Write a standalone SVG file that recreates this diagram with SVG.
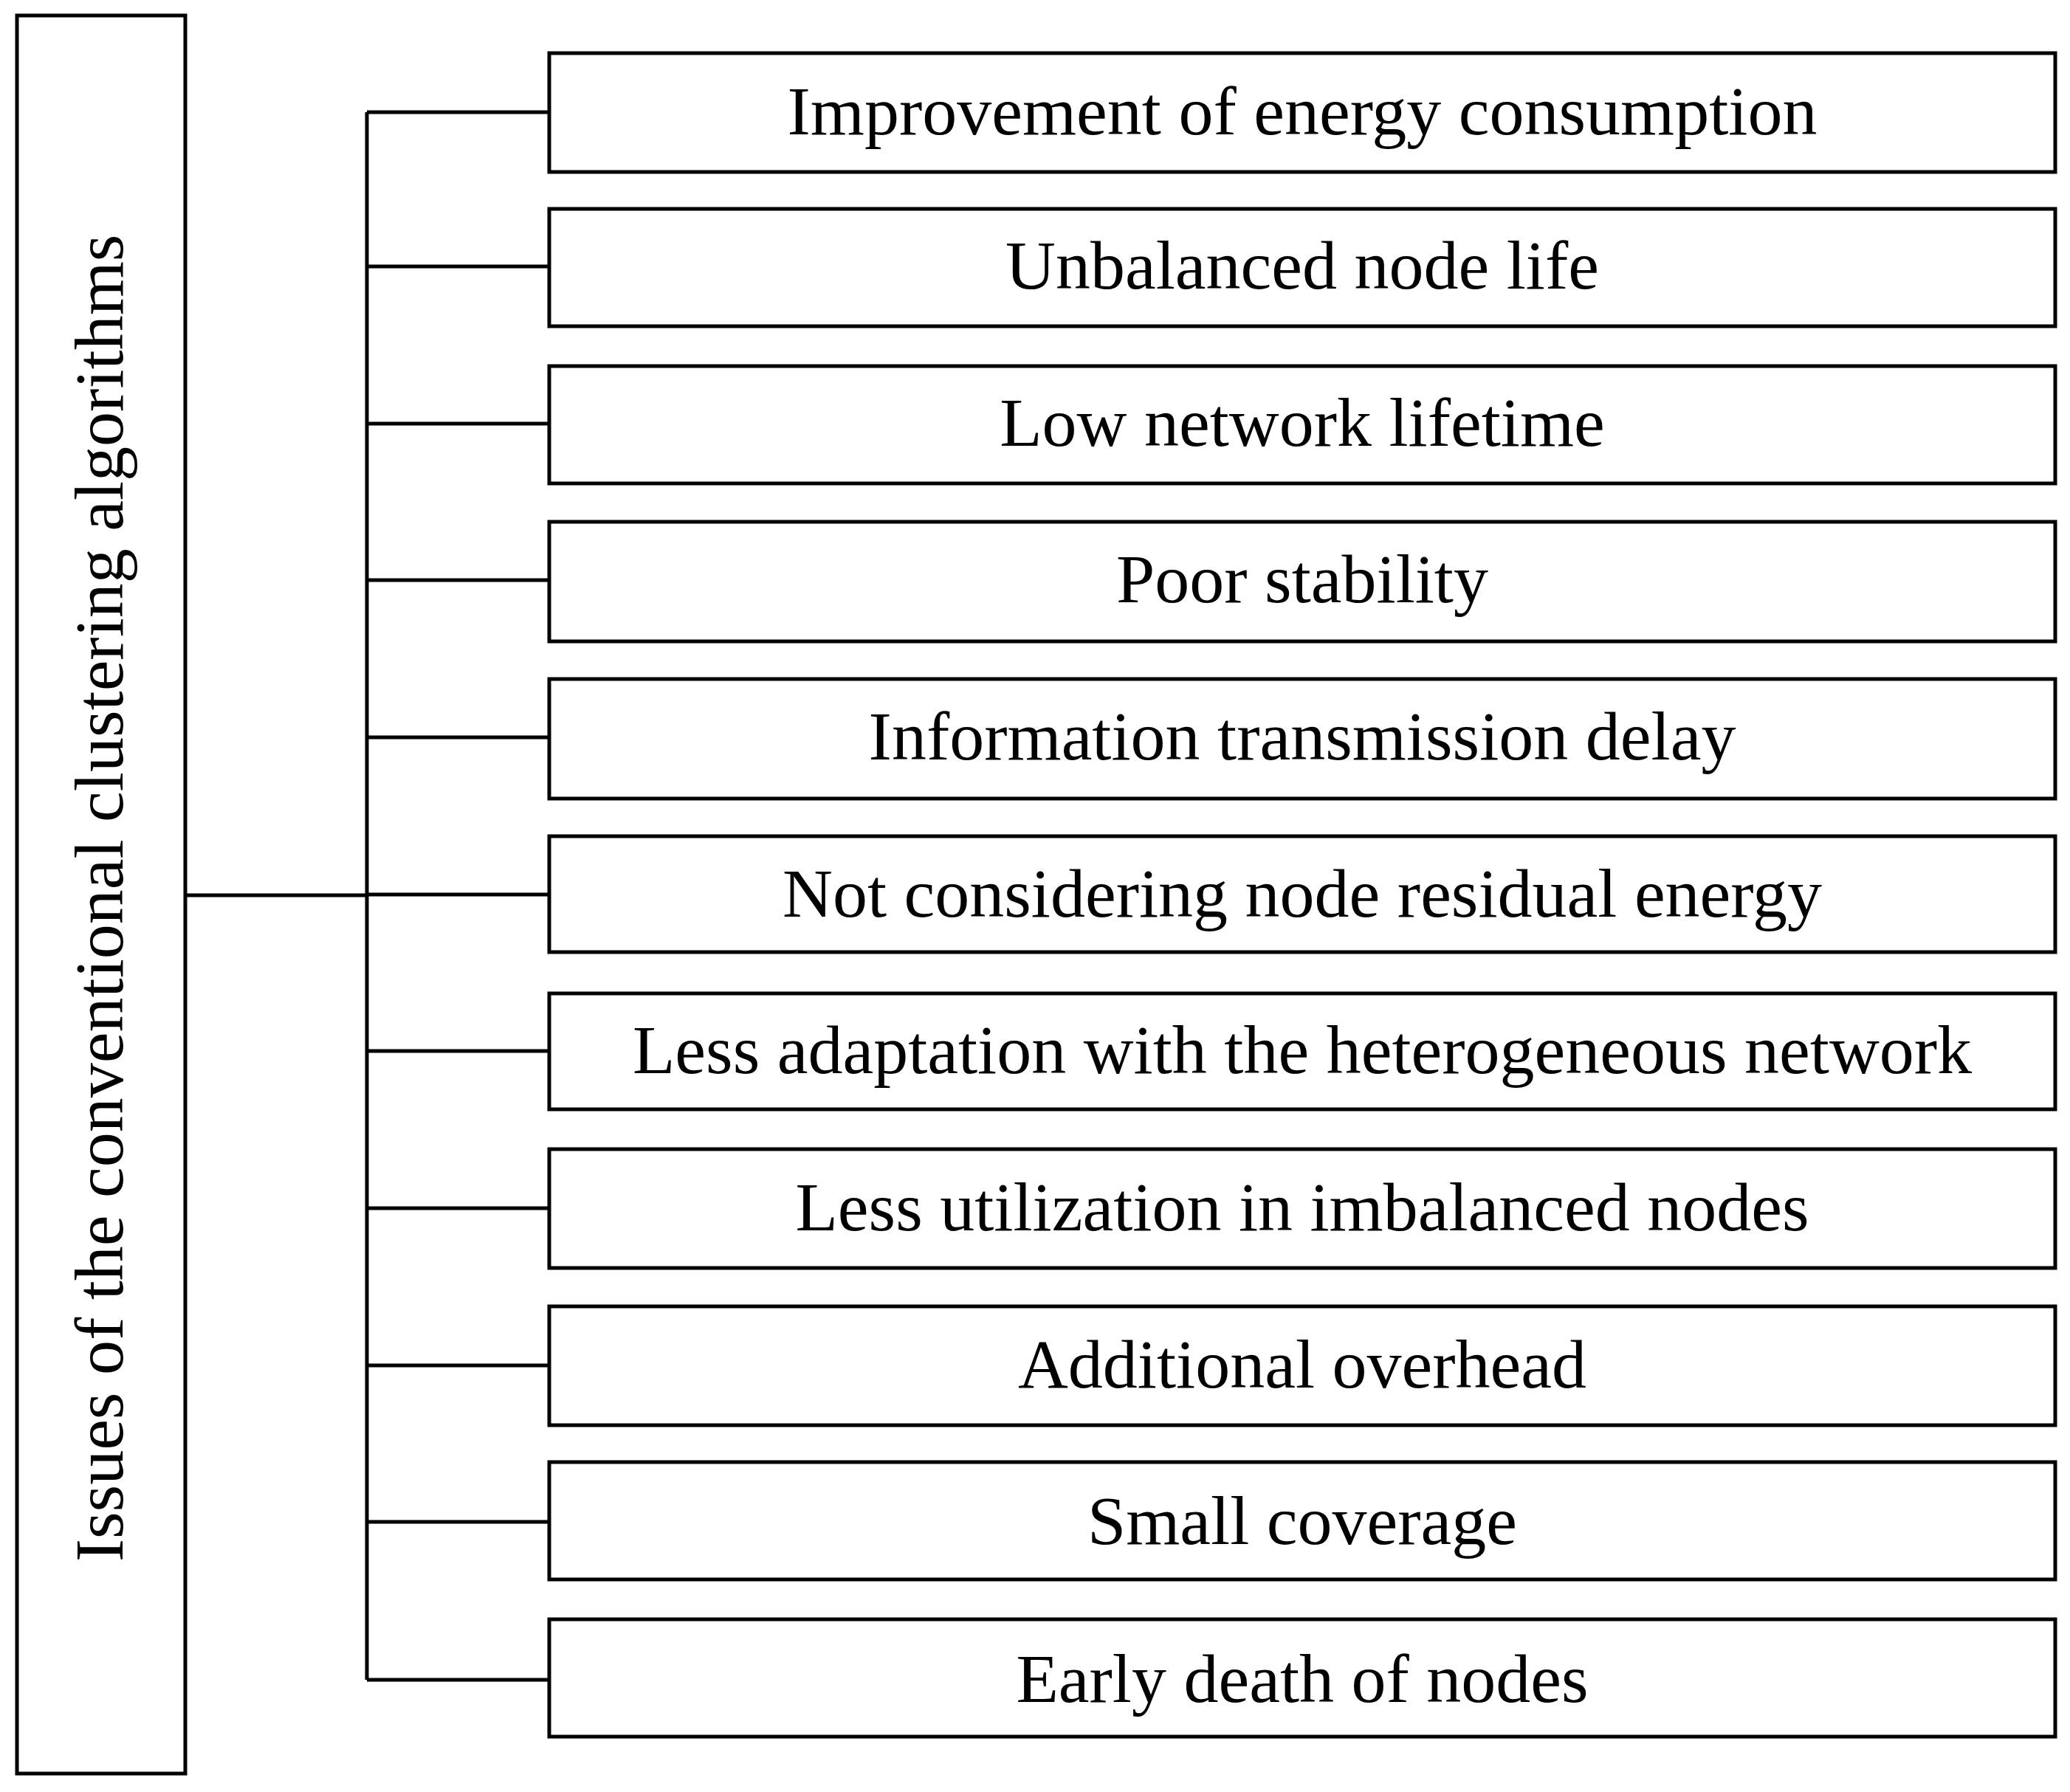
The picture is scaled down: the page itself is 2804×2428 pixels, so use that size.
<svg xmlns="http://www.w3.org/2000/svg" width="2804" height="2428" viewBox="0 0 2804 2428">
<style>
.b{fill:#fff;stroke:#000;stroke-width:5}
.t{font-family:"Liberation Serif",serif;font-size:94px;text-anchor:middle;dominant-baseline:central;fill:#000}
.c{stroke:#000;stroke-width:5;fill:none}
</style>
<rect width="2804" height="2428" fill="#fff"/>
<g id="root"><rect class="b" x="23" y="21" width="228" height="2382"/>
<text class="t" transform="translate(134,1217) rotate(-90)">Issues of the conventional clustering algorithms</text></g>
<g id="connectors">
<path class="c" d="M251 1213H497M497 152V2276"/>
<path class="c" d="M497 152H744M497 361H744M497 574H744M497 786H744M497 999H744M497 1212H744M497 1424H744M497 1637H744M497 1850H744M497 2062H744M497 2276H744"/>
</g>
<g id="n1"><rect class="b" x="744" y="72" width="2040" height="161"/><text class="t" x="1764" y="150">Improvement of energy consumption</text></g>
<g id="n2"><rect class="b" x="744" y="283" width="2040" height="159"/><text class="t" x="1764" y="359">Unbalanced node life</text></g>
<g id="n3"><rect class="b" x="744" y="496" width="2040" height="159"/><text class="t" x="1764" y="572">Low network lifetime</text></g>
<g id="n4"><rect class="b" x="744" y="707" width="2040" height="162"/><text class="t" x="1764" y="784">Poor stability</text></g>
<g id="n5"><rect class="b" x="744" y="920" width="2040" height="162"/><text class="t" x="1764" y="997">Information transmission delay</text></g>
<g id="n6"><rect class="b" x="744" y="1133" width="2040" height="157"/><text class="t" x="1764" y="1210">Not considering node residual energy</text></g>
<g id="n7"><rect class="b" x="744" y="1346" width="2040" height="157"/><text class="t" x="1764" y="1422">Less adaptation with the heterogeneous network</text></g>
<g id="n8"><rect class="b" x="744" y="1557" width="2040" height="161"/><text class="t" x="1764" y="1635">Less utilization in imbalanced nodes</text></g>
<g id="n9"><rect class="b" x="744" y="1770" width="2040" height="161"/><text class="t" x="1764" y="1848">Additional overhead</text></g>
<g id="n10"><rect class="b" x="744" y="1981" width="2040" height="159"/><text class="t" x="1764" y="2060">Small coverage</text></g>
<g id="n11"><rect class="b" x="744" y="2194" width="2040" height="159"/><text class="t" x="1764" y="2274">Early death of nodes</text></g>
</svg>
